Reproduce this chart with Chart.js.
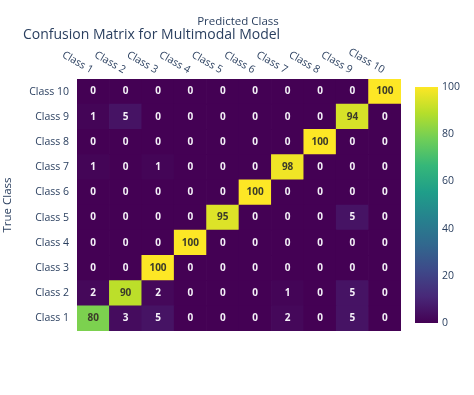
<!DOCTYPE html>
<html>
<head>
<meta charset="utf-8">
<script src="https://cdn.jsdelivr.net/npm/chart.js@4.4.1/dist/chart.umd.min.js"></script>
<style>
  body { margin: 0; background: #fff; }
  #wrap { width: 474px; height: 395px; position: relative; }
</style>
</head>
<body>
<div id="wrap"><canvas id="cm"></canvas></div>
<script>
// Confusion matrix data (rows = true class, columns = predicted class)
const classes = ['Class 1', 'Class 2', 'Class 3', 'Class 4', 'Class 5',
                 'Class 6', 'Class 7', 'Class 8', 'Class 9', 'Class 10'];
const row1 = [80, 3, 5, 0, 0, 0, 2, 0, 5, 0];
const row2 = [2, 90, 2, 0, 0, 0, 1, 0, 5, 0];
const row3 = [0, 0, 100, 0, 0, 0, 0, 0, 0, 0];
const row4 = [0, 0, 0, 100, 0, 0, 0, 0, 0, 0];
const row5 = [0, 0, 0, 0, 95, 0, 0, 0, 5, 0];
const row6 = [0, 0, 0, 0, 0, 100, 0, 0, 0, 0];
const row7 = [1, 0, 1, 0, 0, 0, 98, 0, 0, 0];
const row8 = [0, 0, 0, 0, 0, 0, 0, 100, 0, 0];
const row9 = [1, 5, 0, 0, 0, 0, 0, 0, 94, 0];
const row10 = [0, 0, 0, 0, 0, 0, 0, 0, 0, 100];
const rows = [row1, row2, row3, row4, row5, row6, row7, row8, row9, row10];
const colorbarTicks = [0, 20, 40, 60, 80, 100];

const textColor = '#2a3f5f';
const font = '"Open Sans", Verdana, Arial, sans-serif';

// plotly viridis
const viridis = ['#440154', '#482878', '#3e4989', '#31688e', '#26828e',
                 '#1f9e89', '#35b779', '#6ece58', '#b5de2b', '#fde725'];

function hexToRgb(h) {
    return [parseInt(h.slice(1, 3), 16), parseInt(h.slice(3, 5), 16), parseInt(h.slice(5, 7), 16)];
}

function colorFor(v) {
    const t = Math.max(0, Math.min(1, v / 100)) * (viridis.length - 1);
    const i = Math.min(Math.floor(t), viridis.length - 2);
    const f = t - i;
    const a = hexToRgb(viridis[i]), b = hexToRgb(viridis[i + 1]);
    const c = a.map((x, k) => Math.round(x + (b[k] - x) * f));
    return { css: 'rgb(' + c.join(',') + ')', lum: (0.299 * c[0] + 0.587 * c[1] + 0.114 * c[2]) / 255 };
}

const datasets = rows.map((vals, r) => ({
    label: classes[r],
    data: vals.map(() => [r, r + 1]),
    values: vals,
    backgroundColor: vals.map(v => colorFor(v).css),
    borderWidth: 0,
    barPercentage: 1,
    categoryPercentage: 1,
    grouped: false,
}));

const overlay = {
    id: 'overlay',
    afterDatasetsDraw(chart) {
        const ctx = chart.ctx;
        const area = chart.chartArea;
        const xs = chart.scales.x;

        // cell values
        ctx.save();
        ctx.font = 'bold 10px ' + font;
        ctx.textAlign = 'center';
        ctx.textBaseline = 'middle';
        chart.data.datasets.forEach((ds, r) => {
            chart.getDatasetMeta(r).data.forEach((bar, c) => {
                const v = ds.values[c];
                ctx.fillStyle = colorFor(v).lum > 0.5 ? '#3b3b2a' : '#f4f0f8';
                ctx.fillText(String(v), bar.x, (bar.y + bar.base) / 2);
            });
        });
        ctx.restore();

        // rotated x tick labels above the plot
        ctx.save();
        ctx.font = '10.5px ' + font;
        ctx.fillStyle = textColor;
        ctx.textAlign = 'right';
        ctx.textBaseline = 'middle';
        classes.forEach((lab, i) => {
            ctx.save();
            ctx.translate(xs.getPixelForTick(i) - 1, area.top - 8);
            ctx.rotate(Math.PI / 6);
            ctx.fillText(lab, 0, 0);
            ctx.restore();
        });
        ctx.restore();

        // titles
        ctx.save();
        ctx.fillStyle = textColor;
        ctx.textBaseline = 'middle';
        ctx.font = '11.5px ' + font;
        ctx.textAlign = 'center';
        ctx.fillText('Predicted Class', 238, 22);
        ctx.font = '14px ' + font;
        ctx.textAlign = 'left';
        ctx.fillText('Confusion Matrix for Multimodal Model', 23, 35);
        ctx.restore();

        // colorbar
        const cbX = 415, cbW = 23, cbTop = 87, cbBot = 323;
        ctx.save();
        const g = ctx.createLinearGradient(0, cbBot, 0, cbTop);
        viridis.forEach((c, i) => g.addColorStop(i / (viridis.length - 1), c));
        ctx.fillStyle = g;
        ctx.fillRect(cbX, cbTop, cbW, cbBot - cbTop);
        ctx.font = '10.5px ' + font;
        ctx.fillStyle = textColor;
        ctx.textAlign = 'left';
        ctx.textBaseline = 'middle';
        colorbarTicks.forEach(t => {
            const y = cbBot - (cbBot - cbTop) * t / 100;
            ctx.fillText(String(t), cbX + 27, y);
        });
        ctx.restore();
    }
};

new Chart(document.getElementById('cm').getContext('2d'), {
    type: 'bar',
    data: { labels: classes, datasets: datasets },
    options: {
        responsive: true,
        maintainAspectRatio: false,
        animation: false,
        layout: { padding: { top: 79, right: 73, bottom: 64, left: 0 } },
        plugins: {
            legend: { display: false },
            tooltip: { enabled: false },
        },
        scales: {
            x: {
                position: 'top',
                grid: { display: false },
                border: { display: false },
                ticks: { display: false },
                afterFit: (scale) => { scale.height = 0; },
            },
            y: {
                type: 'linear',
                min: 0,
                max: 10,
                grid: { display: false, drawTicks: false },
                border: { display: false },
                afterBuildTicks: (scale) => {
                    scale.ticks = classes.map((_, i) => ({ value: i + 0.5 }));
                },
                afterFit: (scale) => { scale.width = 77; },
                ticks: {
                    autoSkip: false,
                    color: textColor,
                    font: { family: font, size: 10.5 },
                    padding: 8,
                    callback: (v) => classes[Math.floor(v)],
                },
                title: {
                    display: true,
                    text: 'True Class',
                    color: textColor,
                    font: { family: font, size: 11.5 },
                    padding: { top: 1, bottom: 0 },
                },
            },
        },
    },
    plugins: [overlay],
});
</script>
</body>
</html>
